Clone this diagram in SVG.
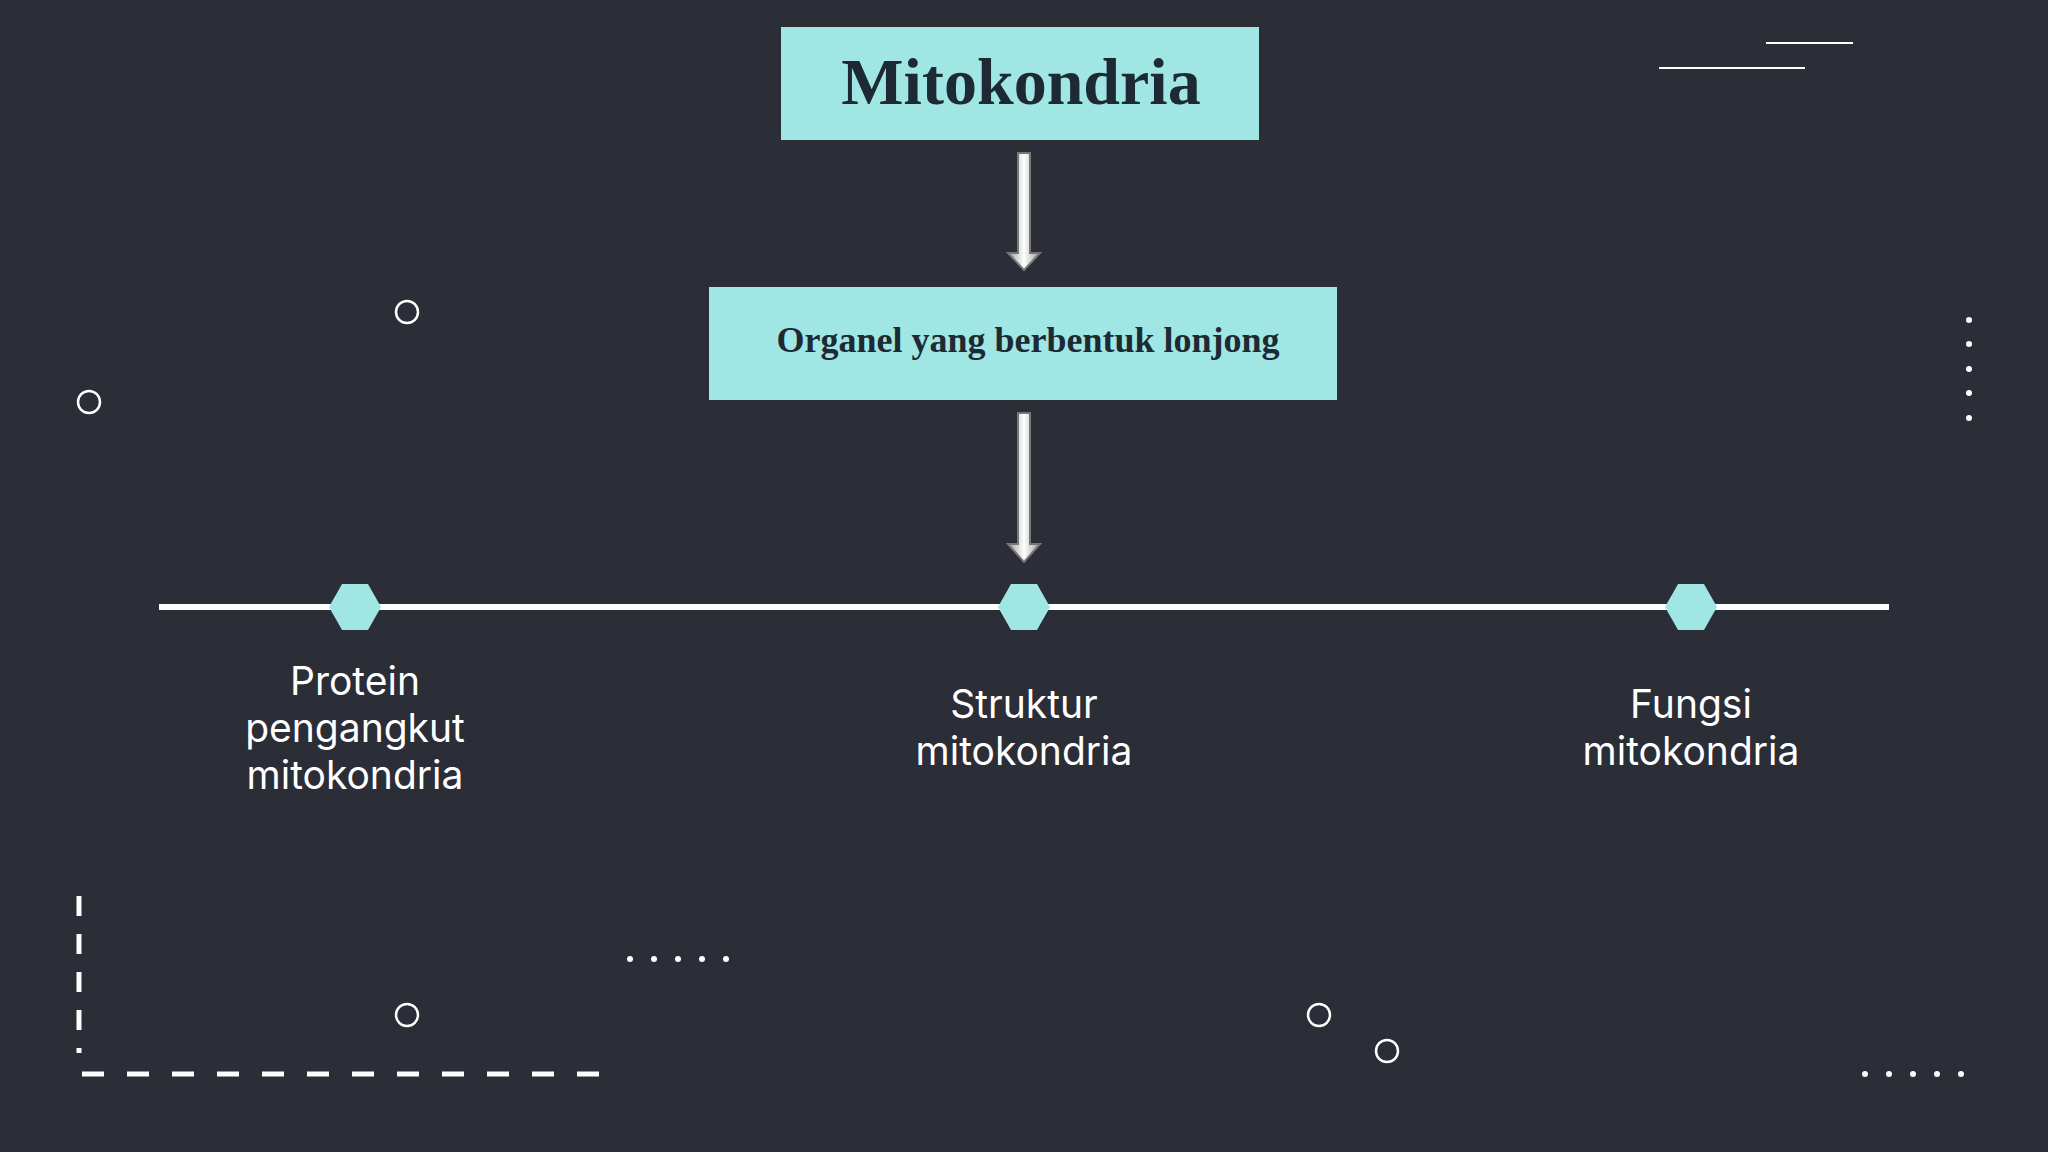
<svg xmlns="http://www.w3.org/2000/svg" width="2048" height="1152" viewBox="0 0 2048 1152">
<defs>
<style>
.box{fill:#a0e6e4}
.ttl{font-family:"Liberation Serif",serif;font-weight:bold;fill:#1e2a33;text-anchor:middle}
.lbl{font-family:Inter,"Liberation Sans",sans-serif;font-size:39px;fill:#ffffff;text-anchor:middle}
.circ{fill:none;stroke:#fff;stroke-width:2.5}
.dot{fill:#fff}
.arrow{fill:#e6e6e6;stroke:#8a8a8a;stroke-width:2}
</style>
<linearGradient id="ag" x1="0" x2="1" y1="0" y2="0"><stop offset="0" stop-color="#9a9a9a"/><stop offset="0.5" stop-color="#ffffff"/><stop offset="1" stop-color="#9a9a9a"/></linearGradient>
</defs>
<rect width="2048" height="1152" fill="#2b2d37"/>
<g id="title"><rect class="box" x="781" y="27" width="478" height="113"/><text class="ttl" x="1021" y="104" font-size="66">Mitokondria</text></g>
<g id="def"><rect class="box" x="709" y="287" width="628" height="113"/><text class="ttl" x="1028" y="352" font-size="36">Organel yang berbentuk lonjong</text></g>
<g id="connectors">
<path d="M1018 153h12v100h10l-16 17l-16-17h10z" fill="url(#ag)" stroke="#777" stroke-width="2"/>
<path d="M1018 413h12v131h10l-16 18l-16-18h10z" fill="url(#ag)" stroke="#777" stroke-width="2"/>
<line x1="159" y1="607" x2="1889" y2="607" stroke="#fff" stroke-width="6"/>
</g>
<g id="n1"><polygon class="box" points="342,584 368,584 381,607 368,630 342,630 329,607"/><text class="lbl" x="355" y="695">Protein</text><text class="lbl" x="355" y="742">pengangkut</text><text class="lbl" x="355" y="789">mitokondria</text></g>
<g id="n2"><polygon class="box" points="1011,584 1037,584 1050,607 1037,630 1011,630 998,607"/><text class="lbl" x="1024" y="718">Struktur</text><text class="lbl" x="1024" y="765">mitokondria</text></g>
<g id="n3"><polygon class="box" points="1678,584 1704,584 1717,607 1704,630 1678,630 1665,607"/><text class="lbl" x="1691" y="718">Fungsi</text><text class="lbl" x="1691" y="765">mitokondria</text></g>
<g id="deco">
<circle class="circ" cx="407" cy="312" r="11"/><circle class="circ" cx="89" cy="402" r="11"/><circle class="circ" cx="407" cy="1015" r="11"/><circle class="circ" cx="1319" cy="1015" r="11"/><circle class="circ" cx="1387" cy="1051" r="11"/>
<line x1="79" y1="896" x2="79" y2="1053" stroke="#fff" stroke-width="5" stroke-dasharray="20 18"/>
<line x1="82" y1="1074" x2="601" y2="1074" stroke="#fff" stroke-width="5" stroke-dasharray="22 23"/>
<g class="dot"><circle cx="630" cy="959" r="3"/><circle cx="654" cy="959" r="3"/><circle cx="678" cy="959" r="3"/><circle cx="702" cy="959" r="3"/><circle cx="726" cy="959" r="3"/>
<circle cx="1865" cy="1074" r="3"/><circle cx="1889" cy="1074" r="3"/><circle cx="1913" cy="1074" r="3"/><circle cx="1937" cy="1074" r="3"/><circle cx="1961" cy="1074" r="3"/>
<circle cx="1969" cy="320" r="3"/><circle cx="1969" cy="344" r="3"/><circle cx="1969" cy="369" r="3"/><circle cx="1969" cy="393" r="3"/><circle cx="1969" cy="418" r="3"/></g>
<line x1="1766" y1="43" x2="1853" y2="43" stroke="#fff" stroke-width="2"/>
<line x1="1659" y1="68" x2="1805" y2="68" stroke="#fff" stroke-width="2"/>
</g>
</svg>
